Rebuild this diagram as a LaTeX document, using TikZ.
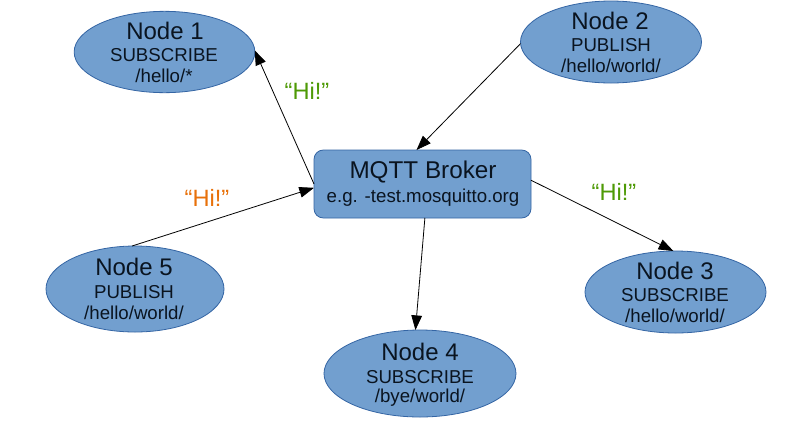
\documentclass[tikz,border=0pt]{standalone}
\usepackage{fontspec}
\setmainfont{Liberation Sans}
\usetikzlibrary{shapes.geometric,arrows.meta}
\definecolor{nodefill}{HTML}{729FCF}
\definecolor{nodeline}{HTML}{3465A4}
\definecolor{higreen}{HTML}{4E9A06}
\definecolor{hiorange}{HTML}{E8710A}
\definecolor{ink}{HTML}{0A1420}
\tikzset{x=0.75pt,y=-0.75pt,
 ell/.style={ellipse,draw=nodeline,fill=nodefill,line width=0.6pt,inner sep=0pt,outer sep=0pt},
 title/.style={font=\fontsize{18pt}{20pt}\selectfont,text=ink},
 sub/.style={font=\fontsize{14pt}{16pt}\selectfont,text=ink},
 hi/.style={font=\fontsize{17.7pt}{20pt}\selectfont},
 conn/.style={draw=black,line width=0.6pt,-{Triangle[length=11pt,width=8pt]}}}
\begin{document}
\begin{tikzpicture}
\useasboundingbox (0,0) rectangle (805,422);
\fill[white] (0,0) rectangle (805,422);
\node[ell,minimum width=135.5pt,minimum height=61pt] (n1) at (164.5,52) {};
\node[ell,minimum width=135.75pt,minimum height=61.5pt] (n2) at (611,42) {};
\node[ell,minimum width=135.75pt,minimum height=61.5pt] (n3) at (675.5,292) {};
\node[ell,minimum width=144pt,minimum height=65.25pt] (n4) at (420,373.5) {};
\node[ell,minimum width=133.5pt,minimum height=64.5pt] (n5) at (135,289) {};
\node[draw=nodeline,fill=nodefill,rounded corners=7pt,line width=0.6pt,outer sep=0pt,minimum width=162.75pt,minimum height=51pt] (b) at (422.5,184) {};
\node[title,font=\fontsize{18.2pt}{20pt}\selectfont] (bt) at (423,172) {MQTT Broker};
\node[sub] (bs) at (423,198) {e.g. -test.mosquitto.org};
\node[title] (t1) at (165,31) {Node 1};
\node[sub] (s1) at (164,55) {SUBSCRIBE};
\node[sub] (p1) at (164,76) {/hello/*};
\node[title] (t2) at (610,21) {Node 2};
\node[sub] (s2) at (611,45) {PUBLISH};
\node[sub] (p2) at (611,66) {/hello/world/};
\node[title] (t3) at (675,271) {Node 3};
\node[sub] (s3) at (675,295) {SUBSCRIBE};
\node[sub] (p3) at (675,316) {/hello/world/};
\node[title] (t4) at (420,352) {Node 4};
\node[sub] (s4) at (420,377) {SUBSCRIBE};
\node[sub] (p4) at (420,398) {/bye/world/};
\node[title] (t5) at (134,267) {Node 5};
\node[sub] (s5) at (134,292) {PUBLISH};
\node[sub] (p5) at (134,313) {/hello/world/};
\node[hi,text=higreen] (h1) at (307,91) {“Hi!”};
\node[hi,text=hiorange] (h2) at (207,198) {“Hi!”};
\node[hi,text=higreen] (h3) at (614,192) {“Hi!”};
\draw[conn] (b.180.5) -- (n1.1.3);
\draw[conn] (n2.181.9) -- (b.100.8);
\draw[conn] (b.2.6) -- (n3.93.4);
\draw[conn] (b.274.2) -- (n4.96.6);
\draw[conn] (n5.94) -- (b.182.1);
\end{tikzpicture}
\end{document}
